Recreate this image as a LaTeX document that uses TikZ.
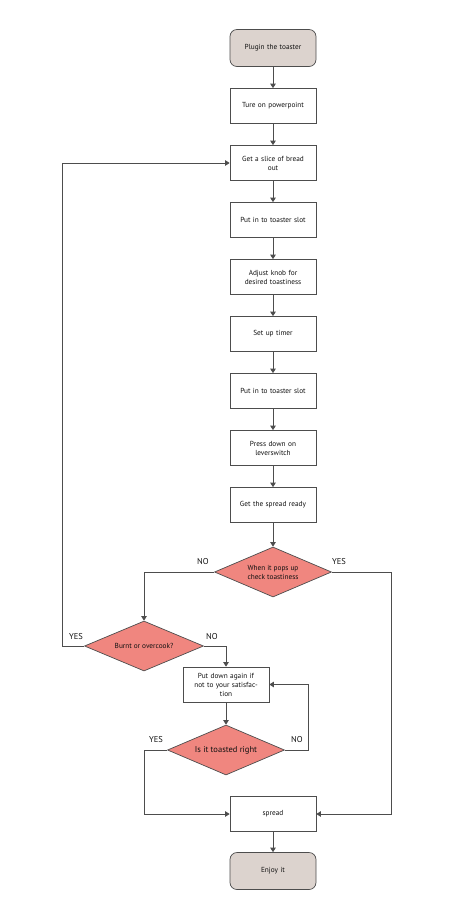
\documentclass[tikz,border=0pt]{standalone}
\usepackage{fontspec}
\setmainfont{PT Sans}
\usetikzlibrary{arrows.meta,positioning,shapes.geometric}
\definecolor{termfill}{HTML}{DCD3CE}
\definecolor{decfill}{HTML}{F0867F}
\definecolor{edgegray}{HTML}{4D4D4D}
\definecolor{inkgray}{HTML}{111111}

\begin{document}
\begin{tikzpicture}[x=1pt,y=-1pt,
  stepbox/.style={draw=edgegray,line width=0.7pt,fill=white,minimum width=86pt,minimum height=35pt,
    text width=82pt,align=center,inner sep=1pt,text=inkgray,font=\fontsize{7.3}{9}\selectfont},
  term/.style={stepbox,rounded corners=7pt,fill=termfill,minimum height=37pt},
  decide/.style={diamond,draw=edgegray,line width=0.7pt,fill=decfill,minimum width=117pt,minimum height=50pt,
    aspect=2.34,inner sep=0pt,align=center,text=inkgray,font=\fontsize{7.3}{9}\selectfont},
  flow/.style={draw=edgegray,line width=0.7pt,-{Triangle[width=5.5pt,length=4.5pt]}},
  answer/.style={text=inkgray,inner sep=0pt,font=\fontsize{8.5}{9}\selectfont}]
\useasboundingbox (0,0) rectangle (474,922);

% main column
\node[term] (plugin) at (273,48) {Plugin the toaster};
\node[stepbox,below=21.3pt of plugin] (power) {Ture on powerpoint};
\node[stepbox,below=21.3pt of power] (bread) {Get a slice of bread\\out};
\node[stepbox,below=21.3pt of bread] (slot) {Put in to toaster slot};
\node[stepbox,below=21.3pt of slot] (knob) {Adjust knob for\\desired toastiness};
\node[stepbox,below=21.3pt of knob] (timer) {Set up timer};
\node[stepbox,below=21.3pt of timer] (slotagain) {Put in to toaster slot};
\node[stepbox,below=21.3pt of slotagain] (lever) {Press down on\\leverswitch};
\node[stepbox,below=21.3pt of lever] (ready) {Get the spread ready};
\node[decide] (pops) at (273,572) {When it pops up\\check toastiness};

% checks
\node[decide,minimum width=119pt] (burnt) at (144,646) {Burnt or overcook?};
\node[stepbox] (again) at (226,684.5) {Put down again if\\not to your satisfac-\\tion};
\node[decide,font=\fontsize{8.5}{9}\selectfont] (right) at (226,750) {Is it toasted right};
\node[stepbox] (spread) at (273,814) {spread};
\node[term] (enjoy) at (273,871) {Enjoy it};

% turning points
\coordinate (popsyes) at (391,572);
\coordinate (burntyes) at (62,646);
\coordinate (rightno) at (308,750);
\coordinate (rightyes) at (144,750);

% connectors
\foreach \a/\b in {plugin/power,power/bread,bread/slot,slot/knob,knob/timer,
  timer/slotagain,slotagain/lever,lever/ready,ready/pops,again/right,spread/enjoy}
\draw[flow] (\a) -- (\b);
\draw[flow] (pops.west) -| (burnt.north);
\draw[flow] (pops.east) -- (popsyes) |- (spread.east);
\draw[flow] (burnt.west) -- (burntyes) |- (bread.west);
\draw[flow] (burnt.east) -| (again.north);
\draw[flow] (right.east) -- (rightno) |- (again.east);
\draw[flow] (right.west) -- (rightyes) |- (spread.west);

% answers
\node[answer] (popsnolbl) at (203,562) {NO};
\node[answer] (popsyeslbl) at (339,562) {YES};
\node[answer] (burntyeslbl) at (76,637) {YES};
\node[answer] (burntnolbl) at (212,637) {NO};
\node[answer] (rightyeslbl) at (156,740) {YES};
\node[answer] (rightnolbl) at (297,740) {NO};
\end{tikzpicture}
\end{document}
